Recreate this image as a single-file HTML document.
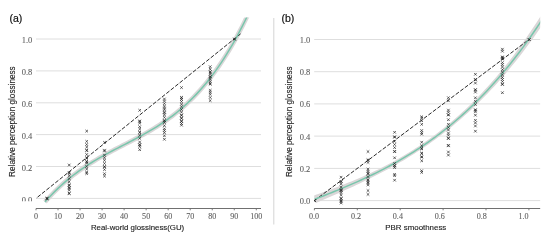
<!DOCTYPE html>
<html><head><meta charset="utf-8"><title>Glossiness perception</title>
<style>
html,body{margin:0;padding:0;background:#fff;}
body{width:550px;height:242px;overflow:hidden;}
svg{display:block;}
.tk{font-family:"Liberation Serif",serif;font-size:9.2px;fill:#5e5e5e;stroke:#5e5e5e;stroke-width:0.1;}
.ti{font-family:"Liberation Sans",sans-serif;font-size:8px;fill:#1a1a1a;stroke:#1a1a1a;stroke-width:0.12;}
.pl{font-family:"Liberation Sans",sans-serif;font-size:10.5px;fill:#111;stroke:#111;stroke-width:0.2;}
</style></head><body>
<svg width="550" height="242" viewBox="0 0 550 242">
<line x1="36" x2="261" y1="39" y2="39" stroke="#dedede" stroke-width="1"/>
<line x1="36" x2="261" y1="70.9" y2="70.9" stroke="#dedede" stroke-width="1"/>
<line x1="36" x2="261" y1="102.8" y2="102.8" stroke="#dedede" stroke-width="1"/>
<line x1="36" x2="261" y1="134.6" y2="134.6" stroke="#dedede" stroke-width="1"/>
<line x1="36" x2="261" y1="166.5" y2="166.5" stroke="#dedede" stroke-width="1"/>
<line x1="36" x2="261" y1="198.4" y2="198.4" stroke="#dedede" stroke-width="1"/>
<g><text x="32.3" y="43.3" class="tk" text-anchor="end" transform="translate(32.3 0) scale(0.92 1) translate(-32.3 0)">1.0</text></g>
<g><text x="32.3" y="75.2" class="tk" text-anchor="end" transform="translate(32.3 0) scale(0.92 1) translate(-32.3 0)">0.8</text></g>
<g><text x="32.3" y="107.1" class="tk" text-anchor="end" transform="translate(32.3 0) scale(0.92 1) translate(-32.3 0)">0.6</text></g>
<g><text x="32.3" y="138.9" class="tk" text-anchor="end" transform="translate(32.3 0) scale(0.92 1) translate(-32.3 0)">0.4</text></g>
<g><text x="32.3" y="170.8" class="tk" text-anchor="end" transform="translate(32.3 0) scale(0.92 1) translate(-32.3 0)">0.2</text></g>
<clipPath id="za"><rect x="0" y="0" width="40" height="201.2"/></clipPath>
<g clip-path="url(#za)"><text x="32.3" y="202.7" class="tk" text-anchor="end" transform="translate(32.3 0) scale(0.92 1) translate(-32.3 0)">0.0</text></g>
<line x1="36" x2="261" y1="208.5" y2="208.5" stroke="#707070" stroke-width="1"/>
<line x1="36" x2="36" y1="208.5" y2="210.3" stroke="#707070" stroke-width="0.9"/>
<line x1="58.03" x2="58.03" y1="208.5" y2="210.3" stroke="#707070" stroke-width="0.9"/>
<line x1="80.06" x2="80.06" y1="208.5" y2="210.3" stroke="#707070" stroke-width="0.9"/>
<line x1="102.09" x2="102.09" y1="208.5" y2="210.3" stroke="#707070" stroke-width="0.9"/>
<line x1="124.12" x2="124.12" y1="208.5" y2="210.3" stroke="#707070" stroke-width="0.9"/>
<line x1="146.15" x2="146.15" y1="208.5" y2="210.3" stroke="#707070" stroke-width="0.9"/>
<line x1="168.18" x2="168.18" y1="208.5" y2="210.3" stroke="#707070" stroke-width="0.9"/>
<line x1="190.21" x2="190.21" y1="208.5" y2="210.3" stroke="#707070" stroke-width="0.9"/>
<line x1="212.24" x2="212.24" y1="208.5" y2="210.3" stroke="#707070" stroke-width="0.9"/>
<line x1="234.27" x2="234.27" y1="208.5" y2="210.3" stroke="#707070" stroke-width="0.9"/>
<line x1="256.3" x2="256.3" y1="208.5" y2="210.3" stroke="#707070" stroke-width="0.9"/>
<text x="36" y="219.1" class="tk" text-anchor="middle" transform="translate(36 0) scale(0.88 1) translate(-36 0)">0</text>
<text x="58.03" y="219.1" class="tk" text-anchor="middle" transform="translate(58.03 0) scale(0.88 1) translate(-58.03 0)">10</text>
<text x="80.06" y="219.1" class="tk" text-anchor="middle" transform="translate(80.06 0) scale(0.88 1) translate(-80.06 0)">20</text>
<text x="102.09" y="219.1" class="tk" text-anchor="middle" transform="translate(102.09 0) scale(0.88 1) translate(-102.09 0)">30</text>
<text x="124.12" y="219.1" class="tk" text-anchor="middle" transform="translate(124.12 0) scale(0.88 1) translate(-124.12 0)">40</text>
<text x="146.15" y="219.1" class="tk" text-anchor="middle" transform="translate(146.15 0) scale(0.88 1) translate(-146.15 0)">50</text>
<text x="168.18" y="219.1" class="tk" text-anchor="middle" transform="translate(168.18 0) scale(0.88 1) translate(-168.18 0)">60</text>
<text x="190.21" y="219.1" class="tk" text-anchor="middle" transform="translate(190.21 0) scale(0.88 1) translate(-190.21 0)">70</text>
<text x="212.24" y="219.1" class="tk" text-anchor="middle" transform="translate(212.24 0) scale(0.88 1) translate(-212.24 0)">80</text>
<text x="234.27" y="219.1" class="tk" text-anchor="middle" transform="translate(234.27 0) scale(0.88 1) translate(-234.27 0)">90</text>
<text x="256.3" y="219.1" class="tk" text-anchor="middle" transform="translate(256.3 0) scale(0.88 1) translate(-256.3 0)">100</text>
<text x="137.6" y="230.3" class="ti" style="font-size:7.85px" text-anchor="middle">Real-world glossiness(GU)</text>
<text x="0" y="0" class="ti" style="font-size:8.2px" text-anchor="middle" transform="translate(14.8 121.6) rotate(-90)">Relative perception glossiness</text>
<text x="9.5" y="21.6" class="pl">(a)</text>
<clipPath id="ca"><rect x="36" y="17.5" width="225" height="190.0"/></clipPath>
<g clip-path="url(#ca)">
<path d="M43.27 200.45 L45.89 197.5 L48.51 194.65 L51.14 191.9 L53.76 189.26 L56.39 186.7 L59.01 184.24 L61.64 181.87 L64.26 179.58 L66.89 177.37 L69.52 175.24 L72.14 173.18 L74.77 171.19 L77.39 169.27 L80.01 167.41 L82.64 165.61 L85.26 163.87 L87.88 162.18 L90.5 160.54 L93.12 158.94 L95.73 157.39 L98.35 155.87 L100.96 154.39 L103.57 152.94 L106.18 151.52 L108.79 150.12 L111.4 148.73 L114 147.37 L116.6 146.02 L119.2 144.68 L121.8 143.34 L124.39 142.01 L126.98 140.67 L129.57 139.33 L132.16 137.98 L134.75 136.61 L137.33 135.23 L139.91 133.83 L142.49 132.41 L145.07 130.96 L147.64 129.48 L150.22 127.97 L152.79 126.42 L155.36 124.83 L157.93 123.19 L160.5 121.51 L163.06 119.77 L165.63 117.98 L168.2 116.13 L170.76 114.21 L173.33 112.23 L175.89 110.18 L178.45 108.06 L181.02 105.85 L183.58 103.57 L186.15 101.2 L188.71 98.75 L191.28 96.2 L193.84 93.55 L196.41 90.81 L198.97 87.96 L201.54 85.01 L204.11 81.94 L206.68 78.77 L209.25 75.47 L211.82 72.05 L214.39 68.51 L216.97 64.83 L219.54 61.03 L222.12 57.09 L224.69 53.01 L227.27 48.78 L229.85 44.41 L232.42 39.89 L235 35.21 L237.58 30.37 L240.16 25.38 L242.75 20.21 L245.33 14.88 L247.91 9.38 L252.09 11.31 L249.48 16.86 L246.87 22.24 L244.27 27.46 L241.66 32.51 L239.05 37.4 L236.44 42.14 L233.83 46.72 L231.21 51.15 L228.6 55.43 L225.99 59.57 L223.37 63.58 L220.76 67.44 L218.14 71.18 L215.52 74.78 L212.9 78.27 L210.28 81.63 L207.66 84.87 L205.04 88 L202.42 91.01 L199.8 93.92 L197.17 96.73 L194.55 99.43 L191.92 102.04 L189.3 104.55 L186.67 106.98 L184.05 109.32 L181.42 111.57 L178.79 113.75 L176.17 115.85 L173.54 117.88 L170.92 119.84 L168.29 121.73 L165.67 123.56 L163.05 125.34 L160.43 127.06 L157.81 128.72 L155.19 130.35 L152.57 131.92 L149.95 133.46 L147.34 134.96 L144.73 136.43 L142.12 137.87 L139.51 139.29 L136.9 140.68 L134.3 142.05 L131.69 143.41 L129.09 144.76 L126.5 146.09 L123.9 147.43 L121.31 148.77 L118.72 150.1 L116.13 151.45 L113.54 152.8 L110.96 154.17 L108.37 155.56 L105.79 156.97 L103.21 158.4 L100.64 159.86 L98.06 161.36 L95.49 162.89 L92.92 164.45 L90.35 166.06 L87.78 167.72 L85.21 169.43 L82.64 171.19 L80.08 173 L77.51 174.88 L74.95 176.82 L72.38 178.83 L69.82 180.91 L67.26 183.07 L64.69 185.31 L62.13 187.62 L59.56 190.03 L57 192.52 L54.43 195.11 L51.87 197.8 L49.3 200.58 L46.73 203.48Z" fill="#dad7d8"/>
<line x1="240.5" y1="33.9" x2="36" y2="198.4" stroke="#2a2a2a" stroke-width="1" stroke-dasharray="4 1.7"/>
<path d="M45 201.97 L47.59 199.04 L50.19 196.22 L52.78 193.51 L55.38 190.89 L57.97 188.37 L60.57 185.93 L63.16 183.59 L65.76 181.32 L68.35 179.14 L70.95 177.03 L73.54 175 L76.14 173.04 L78.73 171.14 L81.33 169.3 L83.92 167.52 L86.52 165.8 L89.11 164.12 L91.71 162.5 L94.3 160.91 L96.9 159.37 L99.49 157.87 L102.09 156.4 L104.68 154.95 L107.28 153.54 L109.87 152.14 L112.47 150.77 L115.06 149.41 L117.66 148.06 L120.25 146.72 L122.85 145.39 L125.44 144.05 L128.04 142.71 L130.63 141.37 L133.23 140.01 L135.82 138.64 L138.42 137.26 L141.01 135.85 L143.61 134.42 L146.2 132.96 L148.8 131.47 L151.39 129.95 L153.99 128.38 L156.58 126.78 L159.18 125.12 L161.77 123.42 L164.37 121.67 L166.96 119.85 L169.56 117.98 L172.15 116.04 L174.75 114.04 L177.34 111.96 L179.94 109.81 L182.53 107.59 L185.13 105.27 L187.72 102.88 L190.32 100.39 L192.91 97.81 L195.51 95.14 L198.1 92.37 L200.7 89.49 L203.29 86.5 L205.89 83.41 L208.48 80.2 L211.08 76.87 L213.67 73.42 L216.27 69.84 L218.86 66.14 L221.46 62.3 L224.05 58.33 L226.65 54.22 L229.24 49.96 L231.84 45.56 L234.43 41.01 L237.03 36.31 L239.62 31.44 L242.22 26.42 L244.81 21.23 L247.41 15.87 L250 10.34" fill="none" stroke="#79c6ac" stroke-width="1.5"/>
<g stroke="#262626" stroke-width="0.7" fill="none">
<path d="M45.7 197.2L48.3 199.8M45.7 199.8L48.3 197.2"/>
<path d="M45.7 197.3L48.3 199.9M45.7 199.9L48.3 197.3"/>
<path d="M45.7 197.1L48.3 199.7M45.7 199.7L48.3 197.1"/>
<path d="M67.9 163.7L70.5 166.3M67.9 166.3L70.5 163.7"/>
<path d="M67.9 171.2L70.5 173.8M67.9 173.8L70.5 171.2"/>
<path d="M67.9 172L70.5 174.6M67.9 174.6L70.5 172"/>
<path d="M67.9 174.3L70.5 176.9M67.9 176.9L70.5 174.3"/>
<path d="M67.9 177.4L70.5 180M67.9 180L70.5 177.4"/>
<path d="M67.9 180.5L70.5 183.1M67.9 183.1L70.5 180.5"/>
<path d="M67.9 183.6L70.5 186.2M67.9 186.2L70.5 183.6"/>
<path d="M67.9 184.2L70.5 186.8M67.9 186.8L70.5 184.2"/>
<path d="M67.9 186.2L70.5 188.8M67.9 188.8L70.5 186.2"/>
<path d="M67.9 186.9L70.5 189.5M67.9 189.5L70.5 186.9"/>
<path d="M67.9 188.8L70.5 191.4M67.9 191.4L70.5 188.8"/>
<path d="M67.9 191.9L70.5 194.5M67.9 194.5L70.5 191.9"/>
<path d="M67.9 192.3L70.5 194.9M67.9 194.9L70.5 192.3"/>
<path d="M85.4 129.8L88 132.4M85.4 132.4L88 129.8"/>
<path d="M85.4 140.1L88 142.7M85.4 142.7L88 140.1"/>
<path d="M85.4 143.2L88 145.8M85.4 145.8L88 143.2"/>
<path d="M85.4 145.8L88 148.4M85.4 148.4L88 145.8"/>
<path d="M85.4 148.9L88 151.5M85.4 151.5L88 148.9"/>
<path d="M85.4 149.3L88 151.9M85.4 151.9L88 149.3"/>
<path d="M85.4 153.2L88 155.8M85.4 155.8L88 153.2"/>
<path d="M85.4 156.5L88 159.1M85.4 159.1L88 156.5"/>
<path d="M85.4 157L88 159.6M85.4 159.6L88 157"/>
<path d="M85.4 160.1L88 162.7M85.4 162.7L88 160.1"/>
<path d="M85.4 160.5L88 163.1M85.4 163.1L88 160.5"/>
<path d="M85.4 161.7L88 164.3M85.4 164.3L88 161.7"/>
<path d="M85.4 165.2L88 167.8M85.4 167.8L88 165.2"/>
<path d="M85.4 167.8L88 170.4M85.4 170.4L88 167.8"/>
<path d="M85.4 170.9L88 173.5M85.4 173.5L88 170.9"/>
<path d="M85.4 172.3L88 174.9M85.4 174.9L88 172.3"/>
<path d="M103.2 141.1L105.8 143.7M103.2 143.7L105.8 141.1"/>
<path d="M103.2 148.9L105.8 151.5M103.2 151.5L105.8 148.9"/>
<path d="M103.2 149.7L105.8 152.3M103.2 152.3L105.8 149.7"/>
<path d="M103.2 153.9L105.8 156.5M103.2 156.5L105.8 153.9"/>
<path d="M103.2 156.5L105.8 159.1M103.2 159.1L105.8 156.5"/>
<path d="M103.2 159L105.8 161.6M103.2 161.6L105.8 159"/>
<path d="M103.2 162.1L105.8 164.7M103.2 164.7L105.8 162.1"/>
<path d="M103.2 165.2L105.8 167.8M103.2 167.8L105.8 165.2"/>
<path d="M103.2 165.7L105.8 168.3M103.2 168.3L105.8 165.7"/>
<path d="M103.2 168.3L105.8 170.9M103.2 170.9L105.8 168.3"/>
<path d="M103.2 172.4L105.8 175M103.2 175L105.8 172.4"/>
<path d="M103.2 174.8L105.8 177.4M103.2 177.4L105.8 174.8"/>
<path d="M138.4 109L141 111.6M138.4 111.6L141 109"/>
<path d="M138.4 119.7L141 122.3M138.4 122.3L141 119.7"/>
<path d="M138.4 120.3L141 122.9M138.4 122.9L141 120.3"/>
<path d="M138.4 121.8L141 124.4M138.4 124.4L141 121.8"/>
<path d="M138.4 125.4L141 128M138.4 128L141 125.4"/>
<path d="M138.4 127.8L141 130.4M138.4 130.4L141 127.8"/>
<path d="M138.4 130.8L141 133.4M138.4 133.4L141 130.8"/>
<path d="M138.4 131.3L141 133.9M138.4 133.9L141 131.3"/>
<path d="M138.4 133.9L141 136.5M138.4 136.5L141 133.9"/>
<path d="M138.4 137L141 139.6M138.4 139.6L141 137"/>
<path d="M138.4 140.7L141 143.3M138.4 143.3L141 140.7"/>
<path d="M138.4 143.2L141 145.8M138.4 145.8L141 143.2"/>
<path d="M138.4 143.7L141 146.3M138.4 146.3L141 143.7"/>
<path d="M138.4 145.3L141 147.9M138.4 147.9L141 145.3"/>
<path d="M138.4 148.4L141 151M138.4 151L141 148.4"/>
<path d="M163.1 97.7L165.7 100.3M163.1 100.3L165.7 97.7"/>
<path d="M163.1 99.8L165.7 102.4M163.1 102.4L165.7 99.8"/>
<path d="M163.1 102.3L165.7 104.9M163.1 104.9L165.7 102.3"/>
<path d="M163.1 104.9L165.7 107.5M163.1 107.5L165.7 104.9"/>
<path d="M163.1 106.8L165.7 109.4M163.1 109.4L165.7 106.8"/>
<path d="M163.1 108.4L165.7 111M163.1 111L165.7 108.4"/>
<path d="M163.1 110.9L165.7 113.5M163.1 113.5L165.7 110.9"/>
<path d="M163.1 111.5L165.7 114.1M163.1 114.1L165.7 111.5"/>
<path d="M163.1 113.5L165.7 116.1M163.1 116.1L165.7 113.5"/>
<path d="M163.1 116.1L165.7 118.7M163.1 118.7L165.7 116.1"/>
<path d="M163.1 119.2L165.7 121.8M163.1 121.8L165.7 119.2"/>
<path d="M163.1 119.7L165.7 122.3M163.1 122.3L165.7 119.7"/>
<path d="M163.1 121.3L165.7 123.9M163.1 123.9L165.7 121.3"/>
<path d="M163.1 124.4L165.7 127M163.1 127L165.7 124.4"/>
<path d="M163.1 127.5L165.7 130.1M163.1 130.1L165.7 127.5"/>
<path d="M163.1 129.3L165.7 131.9M163.1 131.9L165.7 129.3"/>
<path d="M163.1 131.4L165.7 134M163.1 134L165.7 131.4"/>
<path d="M163.1 134.5L165.7 137.1M163.1 137.1L165.7 134.5"/>
<path d="M163.1 138L165.7 140.6M163.1 140.6L165.7 138"/>
<path d="M180.2 86.3L182.8 88.9M180.2 88.9L182.8 86.3"/>
<path d="M180.2 96.1L182.8 98.7M180.2 98.7L182.8 96.1"/>
<path d="M180.2 96.6L182.8 99.2M180.2 99.2L182.8 96.6"/>
<path d="M180.2 98.2L182.8 100.8M180.2 100.8L182.8 98.2"/>
<path d="M180.2 100.3L182.8 102.9M180.2 102.9L182.8 100.3"/>
<path d="M180.2 102.9L182.8 105.5M180.2 105.5L182.8 102.9"/>
<path d="M180.2 105.5L182.8 108.1M180.2 108.1L182.8 105.5"/>
<path d="M180.2 108.2L182.8 110.8M180.2 110.8L182.8 108.2"/>
<path d="M180.2 110.9L182.8 113.5M180.2 113.5L182.8 110.9"/>
<path d="M180.2 113.7L182.8 116.3M180.2 116.3L182.8 113.7"/>
<path d="M180.2 114.2L182.8 116.8M180.2 116.8L182.8 114.2"/>
<path d="M180.2 116.7L182.8 119.3M180.2 119.3L182.8 116.7"/>
<path d="M180.2 117.2L182.8 119.8M180.2 119.8L182.8 117.2"/>
<path d="M180.2 119.7L182.8 122.3M180.2 122.3L182.8 119.7"/>
<path d="M180.2 120.2L182.8 122.8M180.2 122.8L182.8 120.2"/>
<path d="M180.2 122.2L182.8 124.8M180.2 124.8L182.8 122.2"/>
<path d="M180.2 123.9L182.8 126.5M180.2 126.5L182.8 123.9"/>
<path d="M208.9 65.4L211.5 68M208.9 68L211.5 65.4"/>
<path d="M208.9 67.9L211.5 70.5M208.9 70.5L211.5 67.9"/>
<path d="M208.9 70.5L211.5 73.1M208.9 73.1L211.5 70.5"/>
<path d="M208.9 71L211.5 73.6M208.9 73.6L211.5 71"/>
<path d="M208.9 72.6L211.5 75.2M208.9 75.2L211.5 72.6"/>
<path d="M208.9 75.2L211.5 77.8M208.9 77.8L211.5 75.2"/>
<path d="M208.9 75.7L211.5 78.3M208.9 78.3L211.5 75.7"/>
<path d="M208.9 77.8L211.5 80.4M208.9 80.4L211.5 77.8"/>
<path d="M208.9 80.3L211.5 82.9M208.9 82.9L211.5 80.3"/>
<path d="M208.9 82.3L211.5 84.9M208.9 84.9L211.5 82.3"/>
<path d="M208.9 82.8L211.5 85.4M208.9 85.4L211.5 82.8"/>
<path d="M208.9 89L211.5 91.6M208.9 91.6L211.5 89"/>
<path d="M208.9 91L211.5 93.6M208.9 93.6L211.5 91"/>
<path d="M208.9 93.1L211.5 95.7M208.9 95.7L211.5 93.1"/>
<path d="M208.9 96.2L211.5 98.8M208.9 98.8L211.5 96.2"/>
<path d="M208.9 99.3L211.5 101.9M208.9 101.9L211.5 99.3"/>
<path d="M233.2 37.7L235.8 40.3M233.2 40.3L235.8 37.7"/>
<path d="M233.2 37.9L235.8 40.5M233.2 40.5L235.8 37.9"/>
</g></g>
<line x1="314.2" x2="540.2" y1="39.5" y2="39.5" stroke="#dedede" stroke-width="1"/>
<line x1="314.2" x2="540.2" y1="71.7" y2="71.7" stroke="#dedede" stroke-width="1"/>
<line x1="314.2" x2="540.2" y1="103.9" y2="103.9" stroke="#dedede" stroke-width="1"/>
<line x1="314.2" x2="540.2" y1="136.1" y2="136.1" stroke="#dedede" stroke-width="1"/>
<line x1="314.2" x2="540.2" y1="168.4" y2="168.4" stroke="#dedede" stroke-width="1"/>
<line x1="314.2" x2="540.2" y1="200.6" y2="200.6" stroke="#dedede" stroke-width="1"/>
<g><text x="310.3" y="43.1" class="tk" text-anchor="end" transform="translate(310.3 0) scale(0.92 1) translate(-310.3 0)">1.0</text></g>
<g><text x="310.3" y="75.3" class="tk" text-anchor="end" transform="translate(310.3 0) scale(0.92 1) translate(-310.3 0)">0.8</text></g>
<g><text x="310.3" y="107.5" class="tk" text-anchor="end" transform="translate(310.3 0) scale(0.92 1) translate(-310.3 0)">0.6</text></g>
<g><text x="310.3" y="139.7" class="tk" text-anchor="end" transform="translate(310.3 0) scale(0.92 1) translate(-310.3 0)">0.4</text></g>
<g><text x="310.3" y="172" class="tk" text-anchor="end" transform="translate(310.3 0) scale(0.92 1) translate(-310.3 0)">0.2</text></g>
<g><text x="310.3" y="204.2" class="tk" text-anchor="end" transform="translate(310.3 0) scale(0.92 1) translate(-310.3 0)">0.0</text></g>
<line x1="314.2" x2="540.2" y1="208.5" y2="208.5" stroke="#707070" stroke-width="1"/>
<line x1="314.4" x2="314.4" y1="208.5" y2="210.3" stroke="#707070" stroke-width="0.9"/>
<line x1="357.3" x2="357.3" y1="208.5" y2="210.3" stroke="#707070" stroke-width="0.9"/>
<line x1="400.2" x2="400.2" y1="208.5" y2="210.3" stroke="#707070" stroke-width="0.9"/>
<line x1="443.1" x2="443.1" y1="208.5" y2="210.3" stroke="#707070" stroke-width="0.9"/>
<line x1="486" x2="486" y1="208.5" y2="210.3" stroke="#707070" stroke-width="0.9"/>
<line x1="528.9" x2="528.9" y1="208.5" y2="210.3" stroke="#707070" stroke-width="0.9"/>
<text x="314.1" y="219.1" class="tk" text-anchor="middle" transform="translate(314.1 0) scale(0.88 1) translate(-314.1 0)">0.0</text>
<text x="356" y="219.1" class="tk" text-anchor="middle" transform="translate(356 0) scale(0.88 1) translate(-356 0)">0.2</text>
<text x="397.9" y="219.1" class="tk" text-anchor="middle" transform="translate(397.9 0) scale(0.88 1) translate(-397.9 0)">0.4</text>
<text x="439.8" y="219.1" class="tk" text-anchor="middle" transform="translate(439.8 0) scale(0.88 1) translate(-439.8 0)">0.6</text>
<text x="481.7" y="219.1" class="tk" text-anchor="middle" transform="translate(481.7 0) scale(0.88 1) translate(-481.7 0)">0.8</text>
<text x="523.6" y="219.1" class="tk" text-anchor="middle" transform="translate(523.6 0) scale(0.88 1) translate(-523.6 0)">1.0</text>
<text x="415.8" y="230.3" class="ti" style="font-size:7.9px" text-anchor="middle">PBR smoothness</text>
<text x="0" y="0" class="ti" style="font-size:8.2px" text-anchor="middle" transform="translate(292.3 121.6) rotate(-90)">Relative perception glossiness</text>
<text x="281.5" y="21.6" class="pl">(b)</text>
<clipPath id="cb"><rect x="314.2" y="16.5" width="226.00000000000006" height="191.0"/></clipPath>
<g clip-path="url(#cb)">
<path d="M312.99 195.79 L315.94 194.75 L318.89 193.7 L321.84 192.65 L324.79 191.58 L327.74 190.51 L330.68 189.42 L333.63 188.32 L336.57 187.21 L339.51 186.08 L342.45 184.94 L345.39 183.78 L348.32 182.6 L351.26 181.41 L354.19 180.19 L357.13 178.95 L360.06 177.69 L362.99 176.41 L365.92 175.11 L368.85 173.78 L371.78 172.43 L374.7 171.04 L377.63 169.64 L380.55 168.2 L383.47 166.73 L386.39 165.23 L389.31 163.7 L392.23 162.14 L395.15 160.55 L398.07 158.92 L400.98 157.25 L403.89 155.55 L406.81 153.81 L409.72 152.04 L412.62 150.22 L415.53 148.37 L418.44 146.47 L421.34 144.53 L424.24 142.55 L427.14 140.53 L430.05 138.46 L432.95 136.35 L435.84 134.19 L438.74 131.99 L441.64 129.74 L444.54 127.44 L447.43 125.09 L450.33 122.69 L453.22 120.24 L456.11 117.74 L459 115.18 L461.89 112.57 L464.78 109.91 L467.67 107.19 L470.55 104.41 L473.44 101.57 L476.32 98.67 L479.21 95.72 L482.09 92.7 L484.97 89.62 L487.85 86.47 L490.73 83.27 L493.6 80 L496.48 76.66 L499.35 73.25 L502.23 69.78 L505.1 66.24 L507.97 62.63 L510.84 58.95 L513.71 55.19 L516.57 51.37 L519.44 47.46 L522.3 43.49 L525.16 39.44 L528.03 35.31 L530.89 31.11 L533.74 26.82 L536.6 22.46 L539.46 18.01 L542.31 13.49 L547.69 16.93 L544.7 21.44 L541.72 25.86 L538.74 30.2 L535.76 34.47 L532.78 38.65 L529.81 42.76 L526.83 46.79 L523.86 50.75 L520.89 54.63 L517.91 58.44 L514.94 62.18 L511.98 65.84 L509.01 69.44 L506.04 72.96 L503.08 76.42 L500.11 79.81 L497.15 83.14 L494.19 86.4 L491.23 89.59 L488.27 92.72 L485.31 95.79 L482.36 98.8 L479.4 101.75 L476.45 104.64 L473.5 107.47 L470.55 110.24 L467.59 112.96 L464.65 115.62 L461.7 118.23 L458.75 120.79 L455.8 123.29 L452.86 125.74 L449.92 128.14 L446.97 130.5 L444.03 132.8 L441.09 135.06 L438.15 137.27 L435.21 139.44 L432.27 141.57 L429.34 143.65 L426.4 145.68 L423.47 147.68 L420.53 149.64 L417.6 151.56 L414.67 153.44 L411.74 155.29 L408.81 157.11 L405.88 158.89 L402.96 160.63 L400.03 162.35 L397.11 164.04 L394.19 165.69 L391.27 167.32 L388.35 168.92 L385.44 170.5 L382.52 172.05 L379.61 173.57 L376.7 175.08 L373.78 176.56 L370.87 178.02 L367.96 179.45 L365.06 180.87 L362.15 182.28 L359.24 183.66 L356.34 185.03 L353.43 186.38 L350.53 187.72 L347.63 189.04 L344.73 190.36 L341.83 191.66 L338.93 192.95 L336.04 194.23 L333.14 195.5 L330.25 196.77 L327.36 198.03 L324.47 199.28 L321.58 200.53 L318.7 201.78 L315.81 203.02Z" fill="#dad7d8"/>
<line x1="314.4" y1="200.6" x2="529" y2="39.5" stroke="#2a2a2a" stroke-width="1" stroke-dasharray="4 1.7"/>
<path d="M314.4 199.4 L317.32 198.26 L320.24 197.12 L323.16 195.97 L326.08 194.81 L328.99 193.64 L331.91 192.46 L334.83 191.28 L337.75 190.08 L340.67 188.87 L343.59 187.65 L346.51 186.41 L349.43 185.16 L352.35 183.89 L355.27 182.61 L358.18 181.31 L361.1 179.99 L364.02 178.64 L366.94 177.28 L369.86 175.9 L372.78 174.49 L375.7 173.06 L378.62 171.6 L381.54 170.12 L384.46 168.61 L387.37 167.08 L390.29 165.51 L393.21 163.92 L396.13 162.29 L399.05 160.63 L401.97 158.94 L404.89 157.22 L407.81 155.46 L410.73 153.67 L413.65 151.83 L416.56 149.96 L419.48 148.06 L422.4 146.11 L425.32 144.12 L428.24 142.09 L431.16 140.01 L434.08 137.9 L437 135.73 L439.92 133.53 L442.84 131.27 L445.75 128.97 L448.67 126.62 L451.59 124.22 L454.51 121.77 L457.43 119.26 L460.35 116.71 L463.27 114.1 L466.19 111.43 L469.11 108.71 L472.03 105.94 L474.94 103.1 L477.86 100.21 L480.78 97.26 L483.7 94.24 L486.62 91.17 L489.54 88.03 L492.46 84.83 L495.38 81.57 L498.3 78.24 L501.22 74.84 L504.13 71.37 L507.05 67.84 L509.97 64.24 L512.89 60.56 L515.81 56.82 L518.73 53 L521.65 49.11 L524.57 45.14 L527.49 41.1 L530.41 36.98 L533.32 32.79 L536.24 28.51 L539.16 24.16 L542.08 19.72 L545 15.21" fill="none" stroke="#79c6ac" stroke-width="1.5"/>
<g stroke="#262626" stroke-width="0.7" fill="none">
<path d="M313.1 199.2L315.7 201.8M313.1 201.8L315.7 199.2"/>
<path d="M313.1 199.5L315.7 202.1M313.1 202.1L315.7 199.5"/>
<path d="M313.1 199.3L315.7 201.9M313.1 201.9L315.7 199.3"/>
<path d="M339.8 175.9L342.4 178.5M339.8 178.5L342.4 175.9"/>
<path d="M339.8 180L342.4 182.6M339.8 182.6L342.4 180"/>
<path d="M339.8 180.5L342.4 183.1M339.8 183.1L342.4 180.5"/>
<path d="M339.8 182.6L342.4 185.2M339.8 185.2L342.4 182.6"/>
<path d="M339.8 185.7L342.4 188.3M339.8 188.3L342.4 185.7"/>
<path d="M339.8 188.2L342.4 190.8M339.8 190.8L342.4 188.2"/>
<path d="M339.8 189L342.4 191.6M339.8 191.6L342.4 189"/>
<path d="M339.8 189.5L342.4 192.1M339.8 192.1L342.4 189.5"/>
<path d="M339.8 191.4L342.4 194M339.8 194L342.4 191.4"/>
<path d="M339.8 193.9L342.4 196.5M339.8 196.5L342.4 193.9"/>
<path d="M339.8 197L342.4 199.6M339.8 199.6L342.4 197"/>
<path d="M339.8 197.5L342.4 200.1M339.8 200.1L342.4 197.5"/>
<path d="M339.8 199.6L342.4 202.2M339.8 202.2L342.4 199.6"/>
<path d="M339.8 200L342.4 202.6M339.8 202.6L342.4 200"/>
<path d="M339.8 201.7L342.4 204.3M339.8 204.3L342.4 201.7"/>
<path d="M366.7 150.3L369.3 152.9M366.7 152.9L369.3 150.3"/>
<path d="M366.7 158.5L369.3 161.1M366.7 161.1L369.3 158.5"/>
<path d="M366.7 158.9L369.3 161.5M366.7 161.5L369.3 158.9"/>
<path d="M366.7 161.1L369.3 163.7M366.7 163.7L369.3 161.1"/>
<path d="M366.7 167.8L369.3 170.4M366.7 170.4L369.3 167.8"/>
<path d="M366.7 169.9L369.3 172.5M366.7 172.5L369.3 169.9"/>
<path d="M366.7 171.9L369.3 174.5M366.7 174.5L369.3 171.9"/>
<path d="M366.7 172.5L369.3 175.1M366.7 175.1L369.3 172.5"/>
<path d="M366.7 175.4L369.3 178M366.7 178L369.3 175.4"/>
<path d="M366.7 178.5L369.3 181.1M366.7 181.1L369.3 178.5"/>
<path d="M366.7 179L369.3 181.6M366.7 181.6L369.3 179"/>
<path d="M366.7 181L369.3 183.6M366.7 183.6L369.3 181"/>
<path d="M366.7 181.5L369.3 184.1M366.7 184.1L369.3 181.5"/>
<path d="M366.7 183.6L369.3 186.2M366.7 186.2L369.3 183.6"/>
<path d="M366.7 189.3L369.3 191.9M366.7 191.9L369.3 189.3"/>
<path d="M366.7 193.1L369.3 195.7M366.7 195.7L369.3 193.1"/>
<path d="M393.3 131L395.9 133.6M393.3 133.6L395.9 131"/>
<path d="M393.3 135.5L395.9 138.1M393.3 138.1L395.9 135.5"/>
<path d="M393.3 135.9L395.9 138.5M393.3 138.5L395.9 135.9"/>
<path d="M393.3 140.1L395.9 142.7M393.3 142.7L395.9 140.1"/>
<path d="M393.3 143.2L395.9 145.8M393.3 145.8L395.9 143.2"/>
<path d="M393.3 146.3L395.9 148.9M393.3 148.9L395.9 146.3"/>
<path d="M393.3 150L395.9 152.6M393.3 152.6L395.9 150"/>
<path d="M393.3 150.4L395.9 153M393.3 153L395.9 150.4"/>
<path d="M393.3 156.5L395.9 159.1M393.3 159.1L395.9 156.5"/>
<path d="M393.3 162.1L395.9 164.7M393.3 164.7L395.9 162.1"/>
<path d="M393.3 164.2L395.9 166.8M393.3 166.8L395.9 164.2"/>
<path d="M393.3 164.7L395.9 167.3M393.3 167.3L395.9 164.7"/>
<path d="M393.3 166.3L395.9 168.9M393.3 168.9L395.9 166.3"/>
<path d="M393.3 173L395.9 175.6M393.3 175.6L395.9 173"/>
<path d="M393.3 174.4L395.9 177M393.3 177L395.9 174.4"/>
<path d="M393.3 178.9L395.9 181.5M393.3 181.5L395.9 178.9"/>
<path d="M420.4 115.5L423 118.1M420.4 118.1L423 115.5"/>
<path d="M420.4 116.8L423 119.4M420.4 119.4L423 116.8"/>
<path d="M420.4 119.4L423 122M420.4 122L423 119.4"/>
<path d="M420.4 123L423 125.6M420.4 125.6L423 123"/>
<path d="M420.4 129.2L423 131.8M420.4 131.8L423 129.2"/>
<path d="M420.4 131.3L423 133.9M420.4 133.9L423 131.3"/>
<path d="M420.4 132.9L423 135.5M420.4 135.5L423 132.9"/>
<path d="M420.4 140.9L423 143.5M420.4 143.5L423 140.9"/>
<path d="M420.4 144.5L423 147.1M420.4 147.1L423 144.5"/>
<path d="M420.4 147.1L423 149.7M420.4 149.7L423 147.1"/>
<path d="M420.4 147.6L423 150.2M420.4 150.2L423 147.6"/>
<path d="M420.4 151.8L423 154.4M420.4 154.4L423 151.8"/>
<path d="M420.4 152.3L423 154.9M420.4 154.9L423 152.3"/>
<path d="M420.4 155.4L423 158M420.4 158L423 155.4"/>
<path d="M420.4 155.9L423 158.5M420.4 158.5L423 155.9"/>
<path d="M420.4 159.5L423 162.1M420.4 162.1L423 159.5"/>
<path d="M420.4 169.4L423 172M420.4 172L423 169.4"/>
<path d="M420.4 171.1L423 173.7M420.4 173.7L423 171.1"/>
<path d="M447.1 96.4L449.7 99M447.1 99L449.7 96.4"/>
<path d="M447.1 99.5L449.7 102.1M447.1 102.1L449.7 99.5"/>
<path d="M447.1 108.8L449.7 111.4M447.1 111.4L449.7 108.8"/>
<path d="M447.1 110.9L449.7 113.5M447.1 113.5L449.7 110.9"/>
<path d="M447.1 113.5L449.7 116.1M447.1 116.1L449.7 113.5"/>
<path d="M447.1 113.7L449.7 116.3M447.1 116.3L449.7 113.7"/>
<path d="M447.1 118.4L449.7 121M447.1 121L449.7 118.4"/>
<path d="M447.1 123L449.7 125.6M447.1 125.6L449.7 123"/>
<path d="M447.1 126.1L449.7 128.7M447.1 128.7L449.7 126.1"/>
<path d="M447.1 128.7L449.7 131.3M447.1 131.3L449.7 128.7"/>
<path d="M447.1 131.8L449.7 134.4M447.1 134.4L449.7 131.8"/>
<path d="M447.1 133.9L449.7 136.5M447.1 136.5L449.7 133.9"/>
<path d="M447.1 136.8L449.7 139.4M447.1 139.4L449.7 136.8"/>
<path d="M447.1 137.2L449.7 139.8M447.1 139.8L449.7 137.2"/>
<path d="M447.1 144L449.7 146.6M447.1 146.6L449.7 144"/>
<path d="M447.1 144.5L449.7 147.1M447.1 147.1L449.7 144.5"/>
<path d="M447.1 150.7L449.7 153.3M447.1 153.3L449.7 150.7"/>
<path d="M447.1 153.8L449.7 156.4M447.1 156.4L449.7 153.8"/>
<path d="M474.1 73L476.7 75.6M474.1 75.6L476.7 73"/>
<path d="M474.1 78.1L476.7 80.7M474.1 80.7L476.7 78.1"/>
<path d="M474.1 78.6L476.7 81.2M474.1 81.2L476.7 78.6"/>
<path d="M474.1 81.8L476.7 84.4M474.1 84.4L476.7 81.8"/>
<path d="M474.1 88.3L476.7 90.9M474.1 90.9L476.7 88.3"/>
<path d="M474.1 88.7L476.7 91.3M474.1 91.3L476.7 88.7"/>
<path d="M474.1 90.8L476.7 93.4M474.1 93.4L476.7 90.8"/>
<path d="M474.1 96.5L476.7 99.1M474.1 99.1L476.7 96.5"/>
<path d="M474.1 100.1L476.7 102.7M474.1 102.7L476.7 100.1"/>
<path d="M474.1 103.2L476.7 105.8M474.1 105.8L476.7 103.2"/>
<path d="M474.1 108.4L476.7 111M474.1 111L476.7 108.4"/>
<path d="M474.1 108.9L476.7 111.5M474.1 111.5L476.7 108.9"/>
<path d="M474.1 110.5L476.7 113.1M474.1 113.1L476.7 110.5"/>
<path d="M474.1 113.9L476.7 116.5M474.1 116.5L476.7 113.9"/>
<path d="M474.1 119L476.7 121.6M474.1 121.6L476.7 119"/>
<path d="M474.1 121.6L476.7 124.2M474.1 124.2L476.7 121.6"/>
<path d="M474.1 124.7L476.7 127.3M474.1 127.3L476.7 124.7"/>
<path d="M474.1 129.9L476.7 132.5M474.1 132.5L476.7 129.9"/>
<path d="M501.1 47.9L503.7 50.5M501.1 50.5L503.7 47.9"/>
<path d="M501.1 49.9L503.7 52.5M501.1 52.5L503.7 49.9"/>
<path d="M501.1 55.6L503.7 58.2M501.1 58.2L503.7 55.6"/>
<path d="M501.1 56.1L503.7 58.7M501.1 58.7L503.7 56.1"/>
<path d="M501.1 57.2L503.7 59.8M501.1 59.8L503.7 57.2"/>
<path d="M501.1 57.7L503.7 60.3M501.1 60.3L503.7 57.7"/>
<path d="M501.1 61.3L503.7 63.9M501.1 63.9L503.7 61.3"/>
<path d="M501.1 63.4L503.7 66M501.1 66L503.7 63.4"/>
<path d="M501.1 65.7L503.7 68.3M501.1 68.3L503.7 65.7"/>
<path d="M501.1 68.3L503.7 70.9M501.1 70.9L503.7 68.3"/>
<path d="M501.1 70.9L503.7 73.5M501.1 73.5L503.7 70.9"/>
<path d="M501.1 73.5L503.7 76.1M501.1 76.1L503.7 73.5"/>
<path d="M501.1 76.1L503.7 78.7M501.1 78.7L503.7 76.1"/>
<path d="M501.1 78.1L503.7 80.7M501.1 80.7L503.7 78.1"/>
<path d="M501.1 80.2L503.7 82.8M501.1 82.8L503.7 80.2"/>
<path d="M501.1 82.8L503.7 85.4M501.1 85.4L503.7 82.8"/>
<path d="M501.1 83.2L503.7 85.8M501.1 85.8L503.7 83.2"/>
<path d="M501.1 91.4L503.7 94M501.1 94L503.7 91.4"/>
<path d="M527.9 38.2L530.5 40.8M527.9 40.8L530.5 38.2"/>
<path d="M527.9 38.4L530.5 41M527.9 41L530.5 38.4"/>
</g></g>
<line x1="273.8" x2="273.8" y1="18" y2="224.5" stroke="#d4d4d4" stroke-width="1"/>
</svg>
</body></html>
